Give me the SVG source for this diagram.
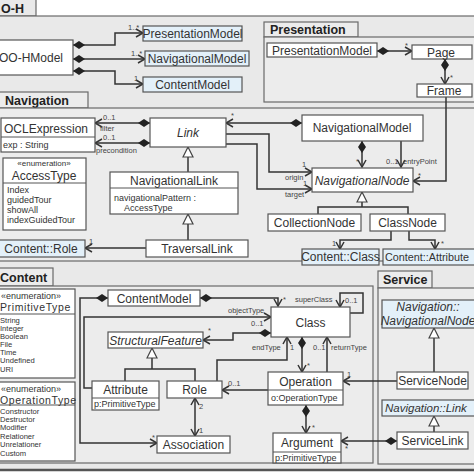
<svg xmlns="http://www.w3.org/2000/svg" width="474" height="474" viewBox="0 0 474 474">
<style>
.pkg{fill:#e9e9e9;stroke:#6a6a6a;stroke-width:1.2}
.pkg2{fill:#ececec;stroke:#6a6a6a;stroke-width:1.2}
.box{fill:#fff;stroke:#555;stroke-width:1.2}
.ext{fill:#e3f0f9;stroke:#555;stroke-width:1.2}
text{font-family:"Liberation Sans",Arial,sans-serif;fill:#333}
.n{font-size:12px;text-anchor:middle}
.i{font-style:italic}
.h{font-size:12.5px;font-weight:bold;fill:#222}
.a{font-size:9px}
.b{font-size:7.6px}
.e{font-size:8px;text-anchor:middle}
.l{font-size:7.5px;fill:#444}
.ln{fill:none;stroke:#333;stroke-width:1.5}
.dv{stroke:#555;stroke-width:1}
</style>
<defs>
<marker id="dia" markerUnits="userSpaceOnUse" markerWidth="14" markerHeight="10" refX="0" refY="5" orient="auto" viewBox="0 0 14 10"><path d="M0,5 L6,1 L12,5 L6,9 Z" fill="#222"/></marker>
<marker id="arr" markerUnits="userSpaceOnUse" markerWidth="10" markerHeight="10" refX="9" refY="5" orient="auto-start-reverse" viewBox="0 0 10 10"><path d="M2,1 L9,5 L2,9" fill="none" stroke="#333" stroke-width="1.5"/></marker>
<marker id="tri" markerUnits="userSpaceOnUse" markerWidth="12" markerHeight="12" refX="11" refY="6" orient="auto" viewBox="0 0 12 12"><path d="M1,1 L11,6 L1,11 Z" fill="#fff" stroke="#444" stroke-width="1.2"/></marker>
</defs>
<rect width="474" height="474" fill="#fff"/>
<g id="packages">
<rect class="pkg" x="-1" y="-1" width="37" height="17"/>
<text class="h" x="1" y="13">O-H</text>
<rect class="pkg" x="-1" y="16" width="477" height="454"/>
<rect class="pkg2" x="264" y="22" width="94" height="15"/>
<text class="h" x="270" y="34">Presentation</text>
<rect class="pkg2" x="264" y="37" width="212" height="65"/>
<rect class="pkg2" x="-1" y="92" width="89" height="16"/>
<text class="h" x="5" y="105">Navigation</text>
<rect class="pkg2" x="-1" y="108" width="477" height="153"/>
<rect class="pkg2" x="-1" y="268" width="54" height="18"/>
<text class="h" x="0" y="282">Content</text>
<rect class="pkg2" x="-1" y="286" width="374" height="177"/>
<rect class="pkg2" x="378" y="271" width="54" height="17"/>
<text class="h" x="383" y="284">Service</text>
<rect class="pkg2" x="378" y="288" width="98" height="176"/>
<line x1="0" y1="470" x2="474" y2="470" stroke="#555" stroke-width="2.5"/>
</g>
<g id="connectors">
<path class="ln" d="M73,45 H115 V33 H143" marker-start="url(#dia)" marker-end="url(#arr)"/>
<path class="ln" d="M73,59 H145" marker-start="url(#dia)" marker-end="url(#arr)"/>
<path class="ln" d="M73,71 H115 V84 H143" marker-start="url(#dia)" marker-end="url(#arr)"/>
<path class="ln" d="M377,51 H412" marker-start="url(#dia)" marker-end="url(#arr)"/>
<path class="ln" d="M445,59 V84" marker-start="url(#dia)" marker-end="url(#arr)"/>
<path class="ln" d="M446,97 V181 H413" marker-end="url(#arr)"/>
<path class="ln" d="M150,123 H95" marker-start="url(#dia)" marker-end="url(#arr)"/>
<path class="ln" d="M150,143 H95" marker-start="url(#dia)" marker-end="url(#arr)"/>
<path class="ln" d="M302,123 H226" marker-start="url(#dia)" marker-end="url(#arr)"/>
<path class="ln" d="M226,134 H269 V172 H312" marker-end="url(#arr)"/>
<path class="ln" d="M226,144 H257 V189 H312" marker-end="url(#arr)"/>
<path class="ln" d="M362,141 V167" marker-start="url(#dia)" marker-end="url(#arr)"/>
<path class="ln" d="M401,141 V167" marker-end="url(#arr)"/>
<path class="ln" d="M318,214 V207 H408 V214"/>
<path class="ln" d="M362,207 V192" marker-end="url(#tri)"/>
<path class="ln" d="M188,172 V147" marker-end="url(#tri)"/>
<path class="ln" d="M188,240 V214" marker-end="url(#tri)"/>
<path class="ln" d="M146,248 H85" marker-end="url(#arr)"/>
<path class="ln" d="M391,231 V240 H340 V249" marker-end="url(#arr)"/>
<path class="ln" d="M409,231 V240 H435 V249" marker-end="url(#arr)"/>
<path class="ln" d="M108,298 H80 V443 H157" marker-start="url(#dia)" marker-end="url(#arr)"/>
<path class="ln" d="M92,388 H84 V317 H271" marker-end="url(#arr)"/>
<path class="ln" d="M200,298 H278 V306" marker-start="url(#dia)" marker-end="url(#arr)"/>
<path class="ln" d="M350,313 H363 V293 H340 V307" marker-end="url(#arr)"/>
<path class="ln" d="M271,333 H233 V340 H203" marker-start="url(#dia)" marker-end="url(#arr)"/>
<path class="ln" d="M125,381 V369 H195 V381"/>
<path class="ln" d="M152,369 V348" marker-end="url(#tri)"/>
<path class="ln" d="M217,381 V360 H287 V337" marker-end="url(#arr)"/>
<path class="ln" d="M302,337 V372" marker-start="url(#dia)" marker-end="url(#arr)"/>
<path class="ln" d="M327,372 V337" marker-end="url(#arr)"/>
<path class="ln" d="M268,390 H222" marker-end="url(#arr)"/>
<path class="ln" d="M195,398 V436" marker-start="url(#arr)" marker-end="url(#arr)"/>
<path class="ln" d="M306,405 V433" marker-start="url(#dia)" marker-end="url(#arr)"/>
<path class="ln" d="M434,372 V328" marker-end="url(#tri)"/>
<path class="ln" d="M397,381 H343" marker-end="url(#arr)"/>
<path class="ln" d="M434,432 V416" marker-end="url(#tri)"/>
<path class="ln" d="M397,441 H341" marker-start="url(#dia)" marker-end="url(#arr)"/>
</g>
<g id="labels">
<text class="l" x="128" y="30">1..*</text>
<text class="l" x="131" y="56">1..*</text>
<text class="l" x="134" y="81">1</text>
<text class="l" x="405" y="48">*</text>
<text class="l" x="450" y="80">*</text>
<text class="l" x="418" y="178">*</text>
<text class="l" x="103" y="120">0..1</text>
<text class="l" x="100" y="131">filter</text>
<text class="l" x="103" y="140">0..1</text>
<text class="l" x="96" y="153">precondition</text>
<text class="l" x="231" y="118">*</text>
<text class="l" x="302" y="167">1</text>
<text class="l" x="285" y="180">origin</text>
<text class="l" x="303" y="186">1</text>
<text class="l" x="285" y="197">target</text>
<text class="l" x="356" y="164">*</text>
<text class="l" x="386" y="164">0..1</text>
<text class="l" x="403" y="164">entryPoint</text>
<text class="l" x="89" y="244">1</text>
<text class="l" x="332" y="246">1</text>
<text class="l" x="441" y="246">*</text>
<text class="l" x="152" y="440">*</text>
<text class="l" x="228" y="313">objectType</text>
<text class="l" x="251" y="326">0..1</text>
<text class="l" x="283" y="302">*</text>
<text class="l" x="295" y="302">superClass</text>
<text class="l" x="345" y="303">0..1</text>
<text class="l" x="208" y="333">*</text>
<text class="l" x="252" y="350">endType</text>
<text class="l" x="290" y="350">1</text>
<text class="l" x="307" y="368">*</text>
<text class="l" x="313" y="350">0..1</text>
<text class="l" x="331" y="350">returnType</text>
<text class="l" x="228" y="386">0..1</text>
<text class="l" x="199" y="409">2</text>
<text class="l" x="199" y="433">1</text>
<text class="l" x="312" y="430">*</text>
<text class="l" x="347" y="377">1</text>
<text class="l" x="345" y="451">*</text>
</g>
<g id="OOHModel"><rect class="box" x="-1" y="40" width="74" height="35"/><text class="n" x="31" y="62">OO-HModel</text></g>
<g id="TopPresentationModel"><rect class="ext" x="143" y="26" width="99" height="15"/><text class="n" x="192.5" y="38" font-size="11.5">PresentationModel</text></g>
<g id="TopNavigationalModel"><rect class="ext" x="145" y="51" width="104" height="15"/><text class="n" x="197" y="63">NavigationalModel</text></g>
<g id="TopContentModel"><rect class="ext" x="143" y="77" width="99" height="15"/><text class="n" x="192.5" y="89">ContentModel</text></g>
<g id="PresentationModel"><rect class="box" x="267" y="43" width="110" height="14"/><text class="n" x="322" y="54.5" font-size="11.5">PresentationModel</text></g>
<g id="Page"><rect class="box" x="412" y="45" width="60" height="14"/><text class="n" x="441" y="56.5">Page</text></g>
<g id="Frame"><rect class="box" x="417" y="84" width="55" height="13"/><text class="n" x="444" y="95">Frame</text></g>
<g id="OCLExpression"><rect class="box" x="1" y="118" width="94" height="34"/><line class="dv" x1="1" y1="137" x2="95" y2="137"/><text class="n" x="46" y="133">OCLExpression</text><text class="a" x="3" y="148">exp : String</text></g>
<g id="Link"><rect class="box" x="150" y="118" width="76" height="29"/><text class="n i" x="188" y="137">Link</text></g>
<g id="NavigationalModel"><rect class="box" x="302" y="115" width="121" height="26"/><text class="n" x="362" y="132">NavigationalModel</text></g>
<g id="NavigationalNode"><rect class="box" x="312" y="168" width="101" height="24"/><text class="n i" x="362" y="185">NavigationalNode</text></g>
<g id="AccessType"><rect class="box" x="3" y="158" width="83" height="72"/><line class="dv" x1="3" y1="183" x2="86" y2="183"/><text class="e" x="44" y="166">«enumeration»</text><text class="n" x="44" y="180" font-size="12.5">AccessType</text><text class="a" x="7" y="193">Index</text><text class="a" x="7" y="203">guidedTour</text><text class="a" x="7" y="213">showAll</text><text class="a" x="7" y="223">indexGuidedTour</text></g>
<g id="NavigationalLink"><rect class="box" x="110" y="172" width="128" height="42"/><line class="dv" x1="110" y1="188" x2="238" y2="188"/><text class="n" x="174" y="185">NavigationalLink</text><text class="a" x="114" y="201">navigationalPattern :</text><text class="a" x="124" y="211">AccessType</text></g>
<g id="TraversalLink"><rect class="box" x="146" y="240" width="102" height="17"/><text class="n" x="197" y="253">TraversalLink</text></g>
<g id="ContentRole"><rect class="ext" x="-1" y="240" width="86" height="17"/><text class="n" x="41" y="253">Content::Role</text></g>
<g id="CollectionNode"><rect class="box" x="268" y="214" width="93" height="17"/><text class="n" x="314.5" y="227">CollectionNode</text></g>
<g id="ClassNode"><rect class="box" x="370" y="214" width="75" height="17"/><text class="n" x="407.5" y="227">ClassNode</text></g>
<g id="ContentClass"><rect class="ext" x="302" y="249" width="77" height="16"/><text class="n" x="340.5" y="261">Content::Class</text></g>
<g id="ContentAttribute"><rect class="ext" x="383" y="249" width="93" height="16"/><text x="385" y="261" font-size="10.8">Content::Attribute</text></g>
<g id="PrimitiveType"><rect class="box" x="-1" y="289" width="76" height="89"/><line class="dv" x1="-1" y1="314" x2="75" y2="314"/><text class="a" x="1" y="299">«enumeration»</text><text x="0" y="311" font-size="10.5" letter-spacing="0.6">PrimitiveType</text><text class="b" x="0" y="323">String</text><text class="b" x="0" y="331">Integer</text><text class="b" x="0" y="339">Boolean</text><text class="b" x="0" y="347">File</text><text class="b" x="0" y="355">Time</text><text class="b" x="0" y="363">Undefined</text><text class="b" x="0" y="372">URI</text></g>
<g id="OperationType"><rect class="box" x="-1" y="382" width="76" height="79"/><line class="dv" x1="-1" y1="405" x2="75" y2="405"/><text class="a" x="1" y="392">«enumeration»</text><text x="0" y="404" font-size="10.5" letter-spacing="0.6">OperationType</text><text class="b" x="0" y="414">Constructor</text><text class="b" x="0" y="422">Destructor</text><text class="b" x="0" y="430">Modifier</text><text class="b" x="0" y="439">Relationer</text><text class="b" x="0" y="447">Unrelationer</text><text class="b" x="0" y="456">Custom</text></g>
<g id="ContentModel"><rect class="box" x="108" y="290" width="92" height="16"/><text class="n" x="154" y="302.5">ContentModel</text></g>
<g id="Class"><rect class="box" x="271" y="307" width="79" height="30"/><text class="n" x="310.5" y="327" font-size="14">Class</text></g>
<g id="StructuralFeature"><rect class="box" x="108" y="332" width="95" height="16"/><text class="n i" x="155.5" y="344.5">StructuralFeature</text></g>
<g id="Attribute"><rect class="box" x="92" y="381" width="67" height="29"/><line class="dv" x1="92" y1="398" x2="159" y2="398"/><text class="n" x="125.5" y="394">Attribute</text><text class="a" x="94" y="407">p:PrimitiveType</text></g>
<g id="Role"><rect class="box" x="167" y="381" width="55" height="17"/><text class="n" x="194.5" y="394">Role</text></g>
<g id="Operation"><rect class="box" x="268" y="372" width="75" height="33"/><line class="dv" x1="268" y1="390" x2="343" y2="390"/><text class="n" x="305.5" y="386" font-size="13">Operation</text><text class="a" x="271" y="401">o:OperationType</text></g>
<g id="Association"><rect class="box" x="157" y="436" width="73" height="17"/><text class="n" x="193.5" y="449">Association</text></g>
<g id="Argument"><rect class="box" x="273" y="433" width="68" height="30"/><line class="dv" x1="273" y1="452" x2="341" y2="452"/><text class="n" x="307" y="447" font-size="13">Argument</text><text class="a" x="275" y="461">p:PrimitiveType</text></g>
<g id="NavNavigationalNode"><rect class="ext" x="382" y="300" width="94" height="28"/><text class="n i" x="428" y="311" font-size="10.4">Navigation::</text><text class="n i" x="428" y="325" font-size="10.4">NavigationalNode</text></g>
<g id="ServiceNode"><rect class="box" x="397" y="372" width="71" height="17"/><text class="n" x="432.5" y="385">ServiceNode</text></g>
<g id="NavLink"><rect class="ext" x="382" y="400" width="94" height="16"/><text class="i" x="385" y="412" font-size="11.5">Navigation::Link</text></g>
<g id="ServiceLink"><rect class="box" x="397" y="432" width="71" height="17"/><text class="n" x="432.5" y="445">ServiceLink</text></g>
</svg>
